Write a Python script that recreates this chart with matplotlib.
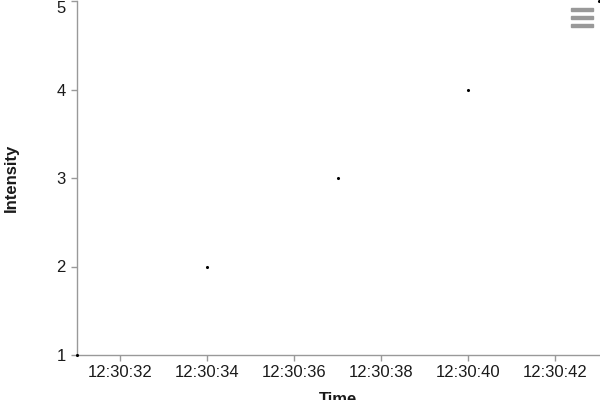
import matplotlib
matplotlib.use("Agg")
import matplotlib.pyplot as plt
import matplotlib.dates as mdates
from matplotlib.patches import Rectangle
from datetime import datetime

times = ["12:30:31", "12:30:34", "12:30:37", "12:30:40", "12:30:43"]
intensity = [1, 2, 3, 4, 5]
x_ticks = ["12:30:32", "12:30:34", "12:30:36", "12:30:38", "12:30:40", "12:30:42"]
y_ticks = [1, 2, 3, 4, 5]

def to_dt(s):
    return datetime.strptime("2024-01-01 " + s, "%Y-%m-%d %H:%M:%S")

xt = [to_dt(t) for t in times]
plt.rcParams['font.family'] = ['Liberation Sans', 'DejaVu Sans']

fig = plt.figure(figsize=(6, 4), dpi=100)
ax = fig.add_axes([77/600, 45/400, (598.5-77)/600, (399-45)/400])
ax.scatter(xt, intensity, s=1.5, color='black', zorder=3, clip_on=False)

ax.set_xlim(to_dt("12:30:31"), to_dt("12:30:43"))
ax.set_ylim(1, 5)
ax.set_xticks([to_dt(t) for t in x_ticks])
ax.xaxis.set_major_formatter(mdates.DateFormatter("%H:%M:%S"))
ax.set_yticks(y_ticks)

for side in ['top', 'right']:
    ax.spines[side].set_visible(False)
for side in ['left', 'bottom']:
    ax.spines[side].set_color('#999999')
    ax.spines[side].set_linewidth(1)
ax.tick_params(axis='both', colors='#999999', length=4, width=1, labelsize=12, labelcolor='#1a1a1a')
ax.tick_params(axis='x', pad=3)
ax.tick_params(axis='y', pad=4)

labels = ax.get_yticklabels()
labels[-1].set_verticalalignment('top')

ax.set_xlabel("Time", fontsize=12, fontweight='bold', color='#1a1a1a', labelpad=9)
ax.set_ylabel("Intensity", fontsize=12, fontweight='bold', color='#1a1a1a', labelpad=27)

for yb in [8, 16, 24]:
    fig.patches.append(Rectangle((571/600, 1 - (yb+3)/400), 22/600, 3/400,
                                 transform=fig.transFigure, color='#999999', figure=fig))

fig.savefig("out.png", dpi=100)
